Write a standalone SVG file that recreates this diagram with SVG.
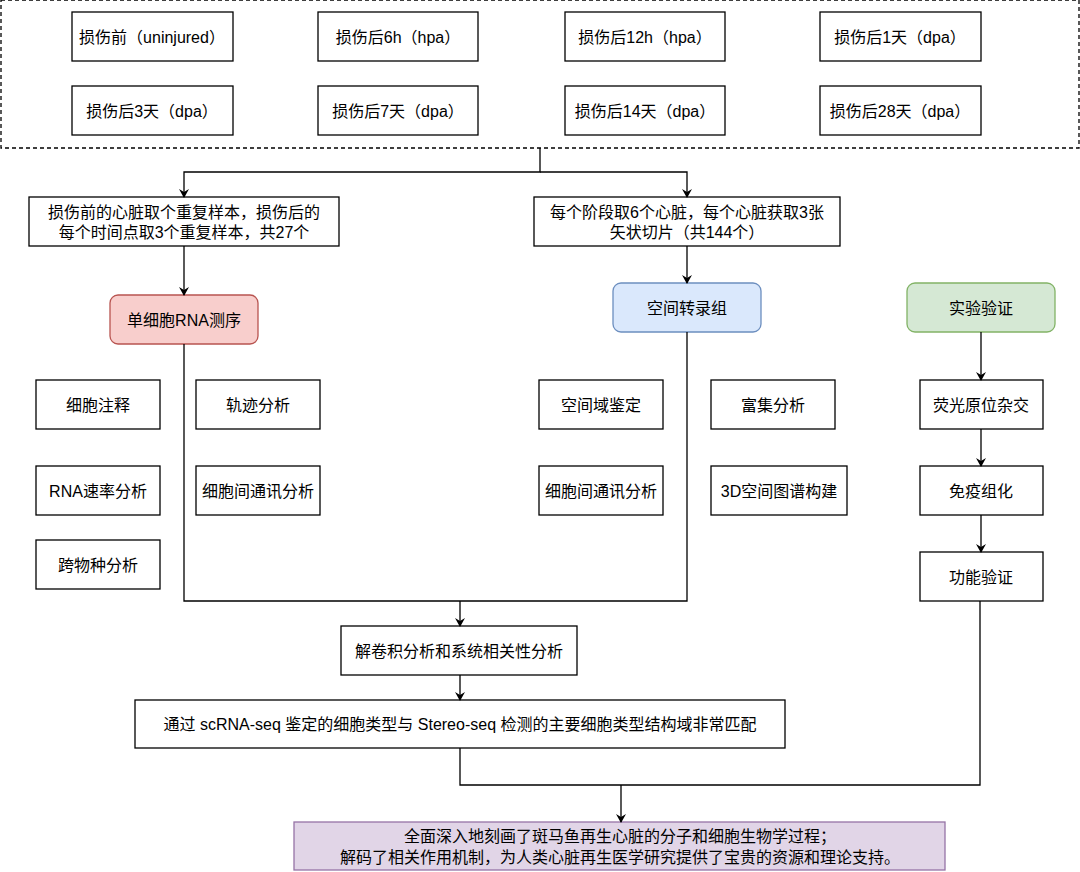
<svg xmlns="http://www.w3.org/2000/svg" width="1080" height="872" viewBox="0 0 1080 872">
<style>
rect{fill:#fff;stroke:#000;stroke-width:1.3}
text{font-family:"Liberation Sans","Noto Sans CJK SC",sans-serif;font-size:16px;text-anchor:middle;dominant-baseline:central;fill:#000}
.c path{fill:none;stroke:#000;stroke-width:1.3}
</style>
<defs><marker id="a" markerWidth="10" markerHeight="10" refX="8" refY="5" orient="auto" markerUnits="userSpaceOnUse"><path d="M0,0L9,5L0,10L3,5z" fill="#000"/></marker></defs>
<g id="container"><rect x="1" y="0" width="1078" height="148" style="stroke-dasharray:4 3"/></g>
<g id="t1"><rect x="72" y="12" width="161" height="49"/><text x="152" y="37">损伤前（uninjured）</text></g>
<g id="t2"><rect x="318" y="12" width="160" height="49"/><text x="398" y="37">损伤后6h（hpa）</text></g>
<g id="t3"><rect x="565" y="12" width="160" height="49"/><text x="645" y="37">损伤后12h（hpa）</text></g>
<g id="t4"><rect x="820" y="12" width="161" height="49"/><text x="900" y="37">损伤后1天（dpa）</text></g>
<g id="t5"><rect x="72" y="86" width="161" height="49"/><text x="152" y="111">损伤后3天（dpa）</text></g>
<g id="t6"><rect x="318" y="86" width="160" height="49"/><text x="398" y="111">损伤后7天（dpa）</text></g>
<g id="t7"><rect x="565" y="86" width="160" height="49"/><text x="645" y="111">损伤后14天（dpa）</text></g>
<g id="t8"><rect x="820" y="86" width="161" height="49"/><text x="900" y="111">损伤后28天（dpa）</text></g>
<g id="sa"><rect x="29" y="197" width="310" height="49"/><text x="184" y="212">损伤前的心脏取个重复样本，损伤后的</text><text x="184" y="232">每个时间点取3个重复样本，共27个</text></g>
<g id="sb"><rect x="534" y="197" width="306" height="49"/><text x="687" y="212">每个阶段取6个心脏，每个心脏获取3张</text><text x="687" y="232">矢状切片（共144个）</text></g>
<g id="rna"><rect x="110" y="295" width="148" height="49" rx="8" style="fill:#f8cecc;stroke:#b85450"/><text x="184" y="320">单细胞RNA测序</text></g>
<g id="sp"><rect x="613" y="283" width="148" height="49" rx="8" style="fill:#dae8fc;stroke:#6c8ebf"/><text x="687" y="308">空间转录组</text></g>
<g id="ex"><rect x="907" y="283" width="148" height="49" rx="8" style="fill:#d5e8d4;stroke:#82b366"/><text x="981" y="308">实验验证</text></g>
<g id="n1"><rect x="36" y="380" width="124" height="49"/><text x="98" y="405">细胞注释</text></g>
<g id="n2"><rect x="196" y="380" width="124" height="49"/><text x="258" y="405">轨迹分析</text></g>
<g id="n3"><rect x="36" y="466" width="124" height="49"/><text x="98" y="491">RNA速率分析</text></g>
<g id="n4"><rect x="196" y="466" width="124" height="49"/><text x="258" y="491">细胞间通讯分析</text></g>
<g id="n5"><rect x="36" y="540" width="124" height="49"/><text x="98" y="565">跨物种分析</text></g>
<g id="n6"><rect x="539" y="380" width="124" height="49"/><text x="601" y="405">空间域鉴定</text></g>
<g id="n7"><rect x="711" y="380" width="124" height="49"/><text x="773" y="405">富集分析</text></g>
<g id="n8"><rect x="539" y="466" width="124" height="49"/><text x="601" y="491">细胞间通讯分析</text></g>
<g id="n9"><rect x="711" y="466" width="136" height="49"/><text x="779" y="491">3D空间图谱构建</text></g>
<g id="e1"><rect x="920" y="380" width="123" height="49"/><text x="981" y="405">荧光原位杂交</text></g>
<g id="e2"><rect x="920" y="466" width="123" height="49"/><text x="981" y="491">免疫组化</text></g>
<g id="e3"><rect x="920" y="552" width="123" height="49"/><text x="981" y="577">功能验证</text></g>
<g id="dc"><rect x="341" y="626" width="236" height="49"/><text x="459" y="651">解卷积分析和系统相关性分析</text></g>
<g id="mt"><rect x="135" y="700" width="650" height="48"/><text x="460" y="724">通过 scRNA-seq 鉴定的细胞类型与 Stereo-seq 检测的主要细胞类型结构域非常匹配</text></g>
<g id="fn"><rect x="294" y="822" width="651" height="48" style="fill:#e1d5e7;stroke:#9673a6"/><text x="620" y="836">全面深入地刻画了斑马鱼再生心脏的分子和细胞生物学过程；</text><text x="620" y="857">解码了相关作用机制，为人类心脏再生医学研究提供了宝贵的资源和理论支持。</text></g>
<g class="c" id="connectors">
<path d="M540,148V172H184V197" marker-end="url(#a)"/>
<path d="M540,172H687V197" marker-end="url(#a)"/>
<path d="M184,246V295" marker-end="url(#a)"/>
<path d="M687,246V283" marker-end="url(#a)"/>
<path d="M184,344V601H687V332"/>
<path d="M460,601V626" marker-end="url(#a)"/>
<path d="M460,675V700" marker-end="url(#a)"/>
<path d="M460,748V785H980V601"/>
<path d="M621,785V822" marker-end="url(#a)"/>
<path d="M981,332V380" marker-end="url(#a)"/>
<path d="M981,429V466" marker-end="url(#a)"/>
<path d="M981,515V552" marker-end="url(#a)"/>
</g>
</svg>
